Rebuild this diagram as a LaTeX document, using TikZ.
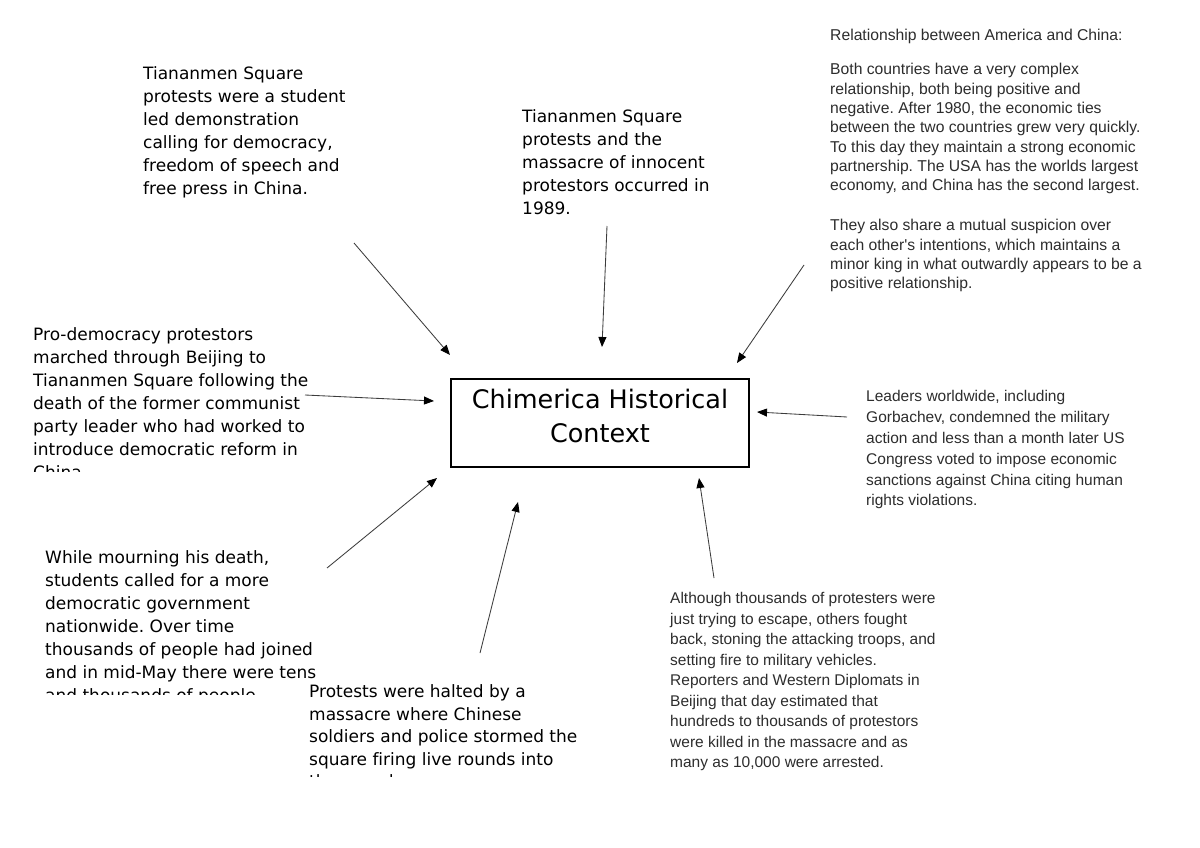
\documentclass[tikz,border=0pt]{standalone}
\usepackage{fontspec}
\usetikzlibrary{arrows.meta}
\newfontfamily\dvs[Ligatures=NoCommon]{DejaVu Sans}
\newfontfamily\lib[Ligatures=NoCommon]{Liberation Sans}
\definecolor{txtgray}{RGB}{45,45,45}
\definecolor{linegray}{RGB}{60,60,60}
\frenchspacing
\begin{document}
\begin{tikzpicture}[x=1pt,y=-1pt,
  blk/.style={font=\dvs\fontsize{17}{23}\selectfont, align=left, inner sep=0pt, anchor=north west, text=black},
  rblk/.style={font=\lib\fontsize{15.5}{20.6}\selectfont, align=left, inner sep=0pt, anchor=north west, text=txtgray},
  ctxbox/.style={draw=black, line width=2pt, minimum width=298pt, minimum height=88pt, inner sep=0pt, align=center, font=\dvs\fontsize{25.5}{34}\selectfont},
  conn/.style={draw=linegray, line width=0.85pt, -{Triangle[length=10pt,width=8pt,color=black]}}
]
\useasboundingbox (0,0) rectangle (1200,848);
\fill[white] (0,0) rectangle (1200,848);

% central box
\node[ctxbox] (ctx) at (600,423) {Chimerica Historical\\Context\rule[-15pt]{0pt}{0pt}};

% text blocks
\node[blk] (ta) at (143,66.5) {Tiananmen Square\\protests were a student\\led demonstration\\calling for democracy,\\freedom of speech and\\free press in China.};
\node[blk] (tb) at (522,109.5) {Tiananmen Square\\protests and the\\massacre of innocent\\protestors occurred in\\1989.};
\begin{scope}
  \clip (0,300) rectangle (345,471);
  \node[blk] (tc) at (33,327.5) {Pro-democracy protestors\\marched through Beijing to\\Tiananmen Square following the\\death of the former communist\\party leader who had worked to\\introduce democratic reform in\\China.};
\end{scope}
\begin{scope}
  \clip (0,530) rectangle (345,694);
  \node[blk] (td) at (45,550.5) {While mourning his death,\\students called for a more\\democratic government\\nationwide. Over time\\thousands of people had joined\\and in mid-May there were tens\\and thousands of people};
\end{scope}
\begin{scope}
  \clip (300,670) rectangle (620,776.5);
  \node[blk, font=\dvs\fontsize{17}{22.5}\selectfont] (te) at (309,684.5) {Protests were halted by a\\massacre where Chinese\\soldiers and police stormed the\\square firing live rounds into\\the crowd.};
\end{scope}

\node[rblk, font=\lib\fontsize{15.7}{19.3}\selectfont] (rel) at (830,29.4) {Relationship between America and China:\\[14.7pt]
Both countries have a very complex\\relationship, both being positive and\\negative. After 1980, the economic ties\\between the two countries grew very quickly.\\To this day they maintain a strong economic\\partnership. The USA has the worlds largest\\economy, and China has the second largest.\\[20.7pt]
They also share a mutual suspicion over\\each other's intentions, which maintains a\\minor king in what outwardly appears to be a\\positive relationship.};
\node[rblk, font=\lib\fontsize{15.5}{20.8}\selectfont] (lead) at (866,390.4) {Leaders worldwide, including\\Gorbachev, condemned the military\\action and less than a month later US\\Congress voted to impose economic\\sanctions against China citing human\\rights violations.};
\node[rblk, font=\lib\fontsize{15.5}{20.5}\selectfont] (alt) at (670,592.4) {Although thousands of protesters were\\just trying to escape, others fought\\back, stoning the attacking troops, and\\setting fire to military vehicles.\\Reporters and Western Diplomats in\\Beijing that day estimated that\\hundreds to thousands of protestors\\were killed in the massacre and as\\many as 10,000 were arrested.};

% connector end points
\coordinate (s1) at (354,243); \coordinate (e1) at (450,355);
\coordinate (s2) at (607,226); \coordinate (e2) at (602,347);
\coordinate (s3) at (804,265); \coordinate (e3) at (737,363);
\coordinate (s4) at (305,395); \coordinate (e4) at (434,401);
\coordinate (s5) at (847,417); \coordinate (e5) at (757,412);
\coordinate (s6) at (327,568); \coordinate (e6) at (437,478);
\coordinate (s7) at (480,653); \coordinate (e7) at (518,502);
\coordinate (s8) at (714,578); \coordinate (e8) at (699,478);

\draw[conn] (s1) -- (e1);
\draw[conn] (s2) -- (e2);
\draw[conn] (s3) -- (e3);
\draw[conn] (s4) -- (e4);
\draw[conn] (s5) -- (e5);
\draw[conn] (s6) -- (e6);
\draw[conn] (s7) -- (e7);
\draw[conn] (s8) -- (e8);
\end{tikzpicture}
\end{document}
